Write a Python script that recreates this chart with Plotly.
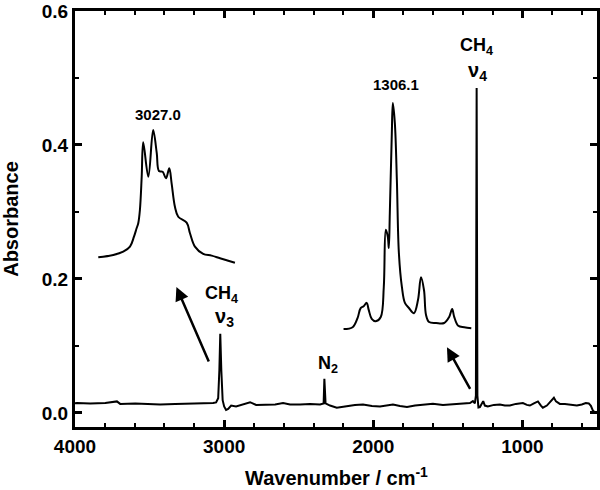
import plotly.graph_objects as go

# ---- main spectrum (wavenumber / cm-1, absorbance) ----
wn = [4000, 3987, 3898, 3797, 3719, 3697, 3596, 3496, 3429, 3328, 3208, 3127, 3074, 3054,
      3040, 3032, 3026, 3019, 3010, 3000, 2987, 2973, 2953, 2920, 2879, 2826, 2786, 2725,
      2658, 2605, 2558, 2491, 2424, 2357, 2333, 2328, 2320, 2290, 2245, 2190, 2123, 2069,
      2009, 1955, 1868, 1821, 1774, 1720, 1654, 1600, 1533, 1466, 1406, 1352, 1332, 1319,
      1312, 1307, 1302, 1295, 1285, 1263, 1252, 1232, 1191, 1151, 1118, 1084, 1044, 997,
      970, 950, 923, 896, 876, 863, 836, 816, 802, 789, 775, 749, 715, 682, 635, 602, 575,
      555, 541, 528, 514]
absorb = [0.0145, 0.0147, 0.0142, 0.0150, 0.0172, 0.0135, 0.0142, 0.0127, 0.0127, 0.0135,
          0.0138, 0.0135, 0.0147, 0.0157, 0.022, 0.064, 0.118, 0.064, 0.019, 0.0097, 0.0045,
          0.006, 0.011, 0.0097, 0.0127, 0.016, 0.012, 0.0127, 0.0127, 0.0147, 0.0127, 0.0127,
          0.0135, 0.0127, 0.0142, 0.051, 0.0142, 0.011, 0.0078, 0.0097, 0.012, 0.0127, 0.0105,
          0.0097, 0.0127, 0.0105, 0.0087, 0.011, 0.0127, 0.0138, 0.012, 0.0127, 0.0135, 0.0147,
          0.0176, 0.0142, 0.026, 0.485, 0.026, 0.0082, 0.0087, 0.0176, 0.011, 0.0097, 0.012,
          0.0127, 0.011, 0.011, 0.0135, 0.0147, 0.012, 0.011, 0.0142, 0.0172, 0.011, 0.0078,
          0.011, 0.0157, 0.020, 0.0227, 0.0172, 0.0135, 0.0135, 0.012, 0.011, 0.0127, 0.0147,
          0.0142, 0.0105, 0.0037, 0.0007]

# ---- inset: CH4 nu3 region ----
wn_v3 = [3066.8, 3055.9, 3048.7, 3043.8, 3040.9, 3039.0, 3037.8, 3036.6, 3035.3, 3034.2,
         3030.5, 3027.0, 3024.4, 3022.8, 3020.1, 3017.7, 3015.3, 3013.6, 3011.2, 3008.8,
         3002.7, 3000.3, 2996.7, 2990.7, 2984.6, 2978.5, 2967.7]
ab_v3 = [0.0068, 0.0089, 0.0118, 0.0163, 0.0252, 0.0326, 0.0371, 0.0489, 0.0785, 0.1091,
         0.0785, 0.120, 0.0996, 0.0836, 0.0829, 0.0771, 0.0860, 0.0726, 0.0518, 0.0429,
         0.0376, 0.0282, 0.0163, 0.0098, 0.0083, 0.0060, 0.0020]

# ---- inset: CH4 nu4 region ----
wn_v4 = [1330.6, 1326.1, 1323.6, 1322.1, 1320.6, 1319.1, 1318.1, 1316.6, 1314.6, 1312.1,
         1310.6, 1309.6, 1308.6, 1308.1, 1307.6, 1306.6, 1306.1, 1305.1, 1304.1, 1303.1,
         1301.6, 1300.1, 1298.1, 1295.6, 1293.6, 1292.1, 1290.6, 1289.6, 1288.1, 1284.6,
         1280.6, 1278.1, 1276.6, 1275.6, 1273.6, 1270.6, 1267.1]
ab_v4 = [0.002, 0.006, 0.026, 0.047, 0.051, 0.058, 0.043, 0.024, 0.019, 0.028,
         0.092, 0.214, 0.199, 0.175, 0.250, 0.421, 0.485, 0.442, 0.321, 0.165,
         0.092, 0.058, 0.047, 0.036, 0.064, 0.113, 0.085, 0.032, 0.017, 0.015,
         0.015, 0.028, 0.045, 0.028, 0.009, 0.006, 0.004]

x_ticks = [4000, 3000, 2000, 1000]
x_labels = ["4000", "3000", "2000", "1000"]
y_ticks = [0.0, 0.2, 0.4, 0.6]
y_labels = ["0.0", "0.2", "0.4", "0.6"]
x_range = [4000, 500]
y_range = [-0.021, 0.6]

# inset frames: (inset range) -> (box on the main axes)
INSET1 = dict(src_x=[3068, 2967], src_y=[-0.01, 0.13], dst_x=[3855.1, 2921.3], dst_y=[0.2041, 0.4391])
INSET2 = dict(src_x=[1331.5, 1266.5], src_y=[-0.02, 0.5], dst_x=[2211.5, 1334.75], dst_y=[0.1098, 0.4731])


def rescale(vals, src, dst):
    k = (dst[1] - dst[0]) / (src[1] - src[0])
    return [dst[0] + (v - src[0]) * k for v in vals]


FONT = "Liberation Sans, Arial, sans-serif"
line_style = dict(color="black", width=2)

fig = go.Figure()
fig.add_trace(go.Scatter(x=wn, y=absorb, mode="lines", line=line_style, hoverinfo="skip"))
for xs, ys, box in [(wn_v3, ab_v3, INSET1), (wn_v4, ab_v4, INSET2)]:
    fig.add_trace(go.Scatter(x=rescale(xs, box["src_x"], box["dst_x"]),
                             y=rescale(ys, box["src_y"], box["dst_y"]),
                             mode="lines", line=line_style, line_shape="spline",
                             hoverinfo="skip"))

x_minor = dict(ticks="inside", ticklen=4, tickwidth=2, tickcolor="black",
               tick0=0, dtick=200, showgrid=False)
y_minor = dict(ticks="inside", ticklen=4, tickwidth=2, tickcolor="black",
               tick0=0, dtick=0.1, showgrid=False)

fig.update_layout(
    width=600, height=490,
    margin=dict(l=75, r=3, t=11, b=63, autoexpand=False),
    paper_bgcolor="white", plot_bgcolor="white",
    showlegend=False,
    font=dict(family=FONT, color="black", size=19),
    xaxis=dict(range=x_range, tickmode="array", tickvals=x_ticks,
               ticktext=["<b>" + t + "</b>" for t in x_labels],
               showline=True, linewidth=3, linecolor="black", mirror="allticks",
               ticks="inside", ticklen=7, tickwidth=3, tickcolor="black",
               showgrid=False, zeroline=False, minor=x_minor),
    yaxis=dict(range=y_range, tickmode="array", tickvals=y_ticks,
               ticktext=["<b>" + t + "</b>" for t in y_labels],
               showline=True, linewidth=3, linecolor="black", mirror="allticks",
               ticks="inside", ticklen=7, tickwidth=3, tickcolor="black",
               showgrid=False, zeroline=False, minor=y_minor,
               title=dict(text="<b>Absorbance</b>", standoff=18, font=dict(size=20))),
)

# x-axis title
fig.add_annotation(x=0.5, y=-0.118, xref="paper", yref="paper",
                   text="<b>Wavenumber / cm<sup>-1</sup></b>", showarrow=False,
                   xanchor="center", yanchor="middle",
                   font=dict(family=FONT, size=20, color="black"))


def label(text, x, y, size):
    fig.add_annotation(x=x, y=y, xref="x", yref="y", text="<b>" + text + "</b>",
                       showarrow=False, xanchor="center", yanchor="middle",
                       font=dict(family=FONT, size=size, color="black"))


label("3027.0", 3441, 0.446, 15)
label("1306.1", 1848, 0.490, 15)
label("CH<sub>4</sub>", 1311, 0.547, 18)
label("ν<sub>4</sub>", 1298, 0.510, 20)
label("CH<sub>4</sub>", 3017, 0.177, 18)
label("ν<sub>3</sub>", 3000, 0.142, 20)
label("N<sub>2</sub>", 2303, 0.072, 18)

for hx, hy, ax, ay in [(3320, 0.188, 33, 76), (1506, 0.098, 24, 43)]:
    fig.add_annotation(x=hx, y=hy, xref="x", yref="y", ax=ax, ay=ay, axref="pixel",
                       ayref="pixel", showarrow=True, arrowhead=2, arrowsize=1.1,
                       arrowwidth=2.5, arrowcolor="black", text="", standoff=0)

fig.write_html("out.html", config={"displayModeBar": False},
               post_script="document.body.style.margin='0';")
